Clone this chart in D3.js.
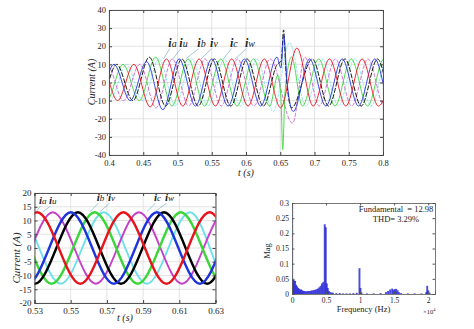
<!DOCTYPE html>
<html><head><meta charset="utf-8">
<script src="https://cdn.jsdelivr.net/npm/d3@7"></script>
<style>
body{margin:0;background:#fff}
svg{display:block}
svg text{font-family:"Liberation Serif","Times New Roman",Times,"DejaVu Serif",serif !important;fill:#222}
</style>
</head><body>
<svg id="c" width="474" height="329"></svg>
<script>
// ---------- data ----------
const seriesNames = ["ia","iu","ib","iv","ic","iw"];
const seriesColors = ["#e8141c","#c53fc8","#1f35dc","#000000","#3ad63a","#6ee0e8"];
const phaseLagDeg = [0, 65, 140, 170, 240, 278];   // peak lag of each phase behind ia
const periodS = 0.0476;                            // ~21 Hz
const firstPeakT = 0.3411;                          // an ia peak just left of 0.4 s

// successive extrema (peak, trough, ...) of each phase current, A
const iaPeaks = [10,-10,10,-10,10,-13.5,13,-13,13,-13,13,-13,13,-14,19,-13,13,-13,13,-13,13];
const iuPeaks = [10,-10,10,-10,10,-14,13,-13,13,-13,13,-13,13,-13,13,-13,13,-13,13,-13,13];
const ibPeaks = [10,-10,10,-10,11.5,-15,13,-13,13,-13,13,-13,13,-13,13,-13,13,-13,13,-13,13];
const ivPeaks = [10,-10,10,-10,14,-13,13,-13,13,-13,13,-13,13,-13,13,-13,13,-13,13,-13,13];
const icPeaks = [10,-10,10,-10,14,-13,13,-13,13,-13,13,-13,13,-13,13,-13,13,-13,13,-13,13];
const iwPeaks = [10,-10,10,-10,13,-13,13,-13,13,-13,13,-16,22,-13,13,-13,13,-13,13,-13,13];

// disturbance near 0.65 s: [t (s), i (A)]
const iaTransient = [];
const iuTransient = [[0.668,-22.5],[0.686,14]];
const ibTransient = [[0.6452,14],[0.651,8],[0.6552,26],[0.660,0],[0.669,-16],[0.6928,13]];
const ivTransient = [[0.6254,-13],[0.6455,10],[0.6515,12],[0.6548,29],[0.6585,5],[0.6665,-14],[0.6968,13]];
const icTransient = [[0.6346,-13],[0.6465,4],[0.651,-8],[0.6536,-37],[0.657,-5],[0.6665,14]];
const iwTransient = [];

// label annotations: label anchor [t, i] and leader-line end [t, i]
const topLabelT = [0.4866,0.5027,0.5289,0.5476,0.5766,0.5985];
const topLabelI = [19.8,19.8,19.8,19.8,19.8,19.8];
const topLeadT  = [0.4795,0.4920,0.5120,0.5345,0.5670,0.5840];
const topLeadI  = [13,12.5,13,13,13,13];
const botLabelT = [0.5325,0.5380,0.5644,0.5706,0.5960,0.6021];
const botLabelI = [16,16,17,17,17,17];
const botLeadT  = [0.5308,0.5347,0.5608,0.5662,0.5920,0.5966];
const botLeadI  = [13.2,13.2,13.2,13.2,13.2,13.2];

const topXTicks = [0.4,0.45,0.5,0.55,0.6,0.65,0.7,0.75,0.8];
const topYTicks = [-40,-30,-20,-10,0,10,20,30,40];
const botXTicks = [0.53,0.55,0.57,0.59,0.61,0.63];
const botYTicks = [-20,-15,-10,-5,0,5,10,15,20];

// FFT spectrum
const specFreq = [50,150,300,450,600,750,900,1050,1200,1350,1500,1650,1800,2000,2200,2400,2600,2800,3000,3200,3400,3600,3800,4000,4200,4400,4600,4800,4950,5100,5250,5400,5600,5800,6000,6500,7000,7500,8000,8500,9000,9500,9900,10050,10200,11000,12000,13000,13800,14100,14400,14700,14900,15100,15300,15500,15700,16000,17000,18000,19000,19700,19850,20000,20200];
const specMag  = [0.32,0.047,0.045,0.043,0.030,0.025,0.020,0.017,0.014,0.015,0.012,0.010,0.010,0.009,0.009,0.010,0.010,0.011,0.012,0.013,0.014,0.016,0.018,0.022,0.027,0.035,0.040,0.230,0.220,0.035,0.020,0.010,0.006,0.005,0.004,0.003,0.003,0.002,0.002,0.002,0.003,0.004,0.085,0.020,0.005,0.002,0.002,0.003,0.006,0.010,0.015,0.018,0.014,0.016,0.017,0.012,0.006,0.003,0.002,0.002,0.002,0.006,0.027,0.012,0.004];
const specXTicks = [0,0.5,1,1.5,2];
const specYTicks = [0,0.05,0.1,0.15,0.2,0.25,0.3];
const fundamentalText = "Fundamental  = 12.98";
const thdText = "THD= 3.29%";

// ---------- build ----------
const svg = d3.select("#c");
const peaksList = [iaPeaks,iuPeaks,ibPeaks,ivPeaks,icPeaks,iwPeaks];
const transList = [iaTransient,iuTransient,ibTransient,ivTransient,icTransient,iwTransient];
const halfP = periodS/2;
const series = seriesNames.map((n,i)=>{
  const lag = phaseLagDeg[i]/360*periodS;
  let pts = peaksList[i].map((v,j)=>[firstPeakT+lag+j*halfP, v]);
  const tr = transList[i];
  if (tr.length){
    const lo = tr[0][0]-0.012, hi = tr[tr.length-1][0]+0.012;
    pts = pts.filter(p=>p[0]<lo||p[0]>hi).concat(tr).sort((a,b)=>a[0]-b[0]);
  }
  return {name:n, color:seriesColors[i], pts};
});
const drawOrder = [5,1,4,3,2,0];
const dashes = {iu:"4,1.5", iw:"3,1", iv:"5,1.5"};

function wavePanel(o){
  const x = d3.scaleLinear().domain(o.xd).range([o.l,o.r]);
  const y = d3.scaleLinear().domain(o.yd).range([o.b,o.t]);
  const g = svg.append("g");
  const id = "clip"+o.key;
  svg.append("clipPath").attr("id",id).append("rect")
    .attr("x",o.l).attr("y",o.t).attr("width",o.r-o.l).attr("height",o.b-o.t);
  g.selectAll(".gx").data(o.xt).enter().append("line")
    .attr("x1",d=>x(d)).attr("x2",d=>x(d)).attr("y1",o.t).attr("y2",o.b)
    .attr("stroke","#dcdcdc").attr("stroke-width",0.8);
  g.selectAll(".gy").data(o.yt).enter().append("line")
    .attr("y1",d=>y(d)).attr("y2",d=>y(d)).attr("x1",o.l).attr("x2",o.r)
    .attr("stroke","#dcdcdc").attr("stroke-width",0.8);
  const line = d3.line().x(d=>x(d[0])).y(d=>y(d[1])).curve(d3.curveMonotoneX);
  const cg = g.append("g").attr("clip-path",`url(#${id})`);
  drawOrder.forEach(i=>{
    const s = series[i];
    cg.append("path").attr("d",line(s.pts)).attr("fill","none")
      .attr("stroke",s.color).attr("stroke-width",o.sw*(i===1||i===5?0.8:1))
      .attr("stroke-dasharray",o.dash?(dashes[s.name]||null):null);
  });
  g.append("g").attr("transform",`translate(0,${o.b})`)
    .call(d3.axisBottom(x).tickValues(o.xt).tickSize(-3).tickPadding(o.pad).tickFormat(o.xf));
  g.append("g").attr("transform",`translate(${o.l},0)`)
    .call(d3.axisLeft(y).tickValues(o.yt).tickSize(-3).tickPadding(3).tickFormat(d=>String(d)));
  g.append("g").attr("transform",`translate(0,${o.t})`)
    .call(d3.axisTop(x).tickValues(o.xt).tickSize(-3).tickFormat(""));
  g.append("g").attr("transform",`translate(${o.r},0)`)
    .call(d3.axisRight(y).tickValues(o.yt).tickSize(-3).tickFormat(""));
  g.selectAll("g").attr("font-family",null);
  g.selectAll(".domain").attr("stroke","#444").attr("stroke-width",0.9);
  g.selectAll(".tick line").attr("stroke","#444");
  g.selectAll(".tick text").attr("font-size",o.fs).attr("fill","#222");
  g.append("text").attr("x",(o.l+o.r)/2).attr("y",o.xly).attr("text-anchor","middle")
    .attr("font-size",o.lfs).attr("font-style","italic").text("t (s)");
  g.append("text").attr("transform",`translate(${o.ylx},${o.yly}) rotate(-90)`)
    .attr("text-anchor","middle").attr("font-size",o.ylfs).attr("font-style","italic").text("Current (A)");
  seriesNames.forEach((n,i)=>{
    const lx = x(o.labT[i]), ly = y(o.labI[i]);
    g.append("line").attr("x1",lx+1.5).attr("y1",ly+2).attr("x2",x(o.leadT[i])).attr("y2",y(o.leadI[i]))
      .attr("stroke","#7fb0c8").attr("stroke-width",0.7);
    const t = g.append("text").attr("x",lx).attr("y",ly).attr("font-style","italic");
    t.append("tspan").attr("font-size",o.ifs).attr("font-weight","bold").text("i");
    t.append("tspan").attr("font-size",o.sfs).text(n.slice(1));
  });
  return {x,y};
}

wavePanel({key:"top", xd:[0.4,0.8], yd:[-40,40], l:109, r:383, t:10, b:155,
  xt:topXTicks, yt:topYTicks, xf:d=>String(d), fs:8.5, pad:5, sw:0.9, dash:true,
  xly:176, lfs:10, ylx:95, yly:82, ylfs:10,
  labT:topLabelT, labI:topLabelI, leadT:topLeadT, leadI:topLeadI, ifs:12, sfs:10});

wavePanel({key:"bot", xd:[0.53,0.63], yd:[-20,20], l:34.5, r:215.5, t:193, b:303,
  xt:botXTicks, yt:botYTicks, xf:d=>d.toFixed(2), fs:9, pad:5, sw:2.4, dash:false,
  xly:321, lfs:10, ylx:20, yly:258, ylfs:11,
  labT:botLabelT, labI:botLabelI, leadT:botLeadT, leadI:botLeadI, ifs:11, sfs:9});

(function(){
  const l=292, r=435, t=203, b=294;
  const x = d3.scaleLinear().domain([0,21000]).range([l,r]);
  const y = d3.scaleLinear().domain([0,0.3]).range([b,t]);
  const g = svg.append("g");
  svg.append("clipPath").attr("id","clipS").append("rect").attr("x",l).attr("y",t).attr("width",r-l).attr("height",b-t);
  const bg = g.append("g").attr("clip-path","url(#clipS)");
  bg.selectAll("rect").data(specFreq.map((f,i)=>[f,specMag[i]])).enter().append("rect")
    .attr("x",d=>x(d[0])-0.9).attr("width",1.9)
    .attr("y",d=>y(d[1])).attr("height",d=>b-y(d[1]))
    .attr("fill",d=>d[1]>0.3?"#b9b9f2":"#2b2bd6").attr("fill-opacity",d=>d[1]>0.3?1:0.85);
  g.append("g").attr("transform",`translate(0,${b})`)
    .call(d3.axisBottom(x).tickValues(specXTicks.map(v=>v*1e4)).tickSize(-2.5).tickPadding(4).tickFormat(d=>String(d/1e4)));
  g.append("g").attr("transform",`translate(${l},0)`)
    .call(d3.axisLeft(y).tickValues(specYTicks).tickSize(-2.5).tickPadding(3).tickFormat(d=>String(d)));
  g.append("g").attr("transform",`translate(0,${t})`)
    .call(d3.axisTop(x).tickValues(specXTicks.map(v=>v*1e4)).tickSize(-2.5).tickFormat(""));
  g.append("g").attr("transform",`translate(${r},0)`)
    .call(d3.axisRight(y).tickValues(specYTicks).tickSize(-2.5).tickFormat(""));
  g.selectAll("g").attr("font-family",null);
  g.selectAll(".domain").attr("stroke","#555").attr("stroke-width",0.8);
  g.selectAll(".tick line").attr("stroke","#555");
  g.selectAll(".tick text").attr("font-size",7.5).attr("fill","#333");
  g.append("text").attr("x",(l+r)/2).attr("y",312).attr("text-anchor","middle").attr("font-size",8.5).text("Frequency (Hz)");
  const xe = g.append("text").attr("x",423).attr("y",314).attr("font-size",6.5);
  xe.append("tspan").text("×10");
  xe.append("tspan").attr("dy",-3).attr("font-size",4.5).text("4");
  g.append("text").attr("transform",`translate(${270},${251}) rotate(-90)`).attr("text-anchor","middle").attr("font-size",8.5).text("Mag");
  g.append("text").attr("x",396).attr("y",212).attr("text-anchor","middle").attr("font-size",8.5).style("white-space","pre").text(fundamentalText);
  g.append("text").attr("x",396).attr("y",222).attr("text-anchor","middle").attr("font-size",8.5).text(thdText);
})();
</script>
</body></html>
